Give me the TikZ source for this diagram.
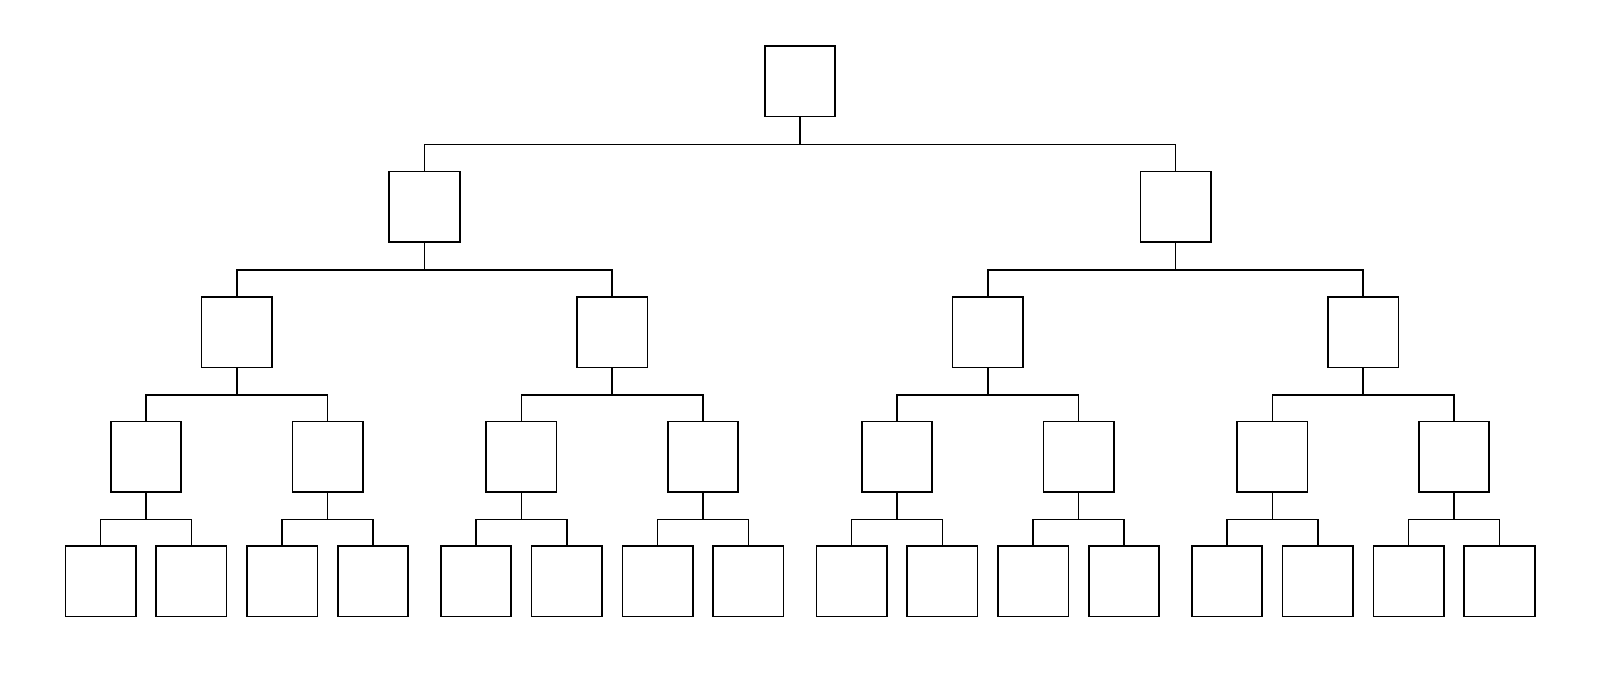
\documentclass[tikz,border=0pt]{standalone}
\begin{document}
\begin{tikzpicture}[x=0.1mm, y=-0.1mm,
    box/.style={draw=black, line width=0.45pt, minimum size=6.9mm, inner sep=0pt},
    link/.style={black, line width=0.45pt}]
    \useasboundingbox (0,0) rectangle (1568,679);

    % boxes, level by level
    \node[box] (a) at (784,79.5) {};
    \foreach \x [count=\i] in {416,1152}
        \node[box] (b\i) at (\x,202.5) {};
    \foreach \x [count=\i] in {232,600,968,1336}
        \node[box] (c\i) at (\x,325.5) {};
    \foreach \x [count=\i] in {143,321,511,689,879,1057,1247,1425}
        \node[box] (d\i) at (\x,447.5) {};
    \foreach \x [count=\i] in {98.5,187.5,276.5,365.5,466.5,555.5,644.5,733.5,
                               834.5,923.5,1012.5,1101.5,1202.5,1291.5,1380.5,1469.5}
        \node[box] (e\i) at (\x,569.5) {};

    % connectors
    \foreach \i in {1,2}
        \draw[link] (a.south) -- ++(0,27) -| (b\i.north);
    \foreach \i [evaluate=\i as \p using {int((\i+1)/2)}] in {1,...,4}
        \draw[link] (b\p.south) -- ++(0,27) -| (c\i.north);
    \foreach \i [evaluate=\i as \p using {int((\i+1)/2)}] in {1,...,8}
        \draw[link] (c\p.south) -- ++(0,26.5) -| (d\i.north);
    \foreach \i [evaluate=\i as \p using {int((\i+1)/2)}] in {1,...,16}
        \draw[link] (d\p.south) -- ++(0,26.5) -| (e\i.north);
\end{tikzpicture}
\end{document}
